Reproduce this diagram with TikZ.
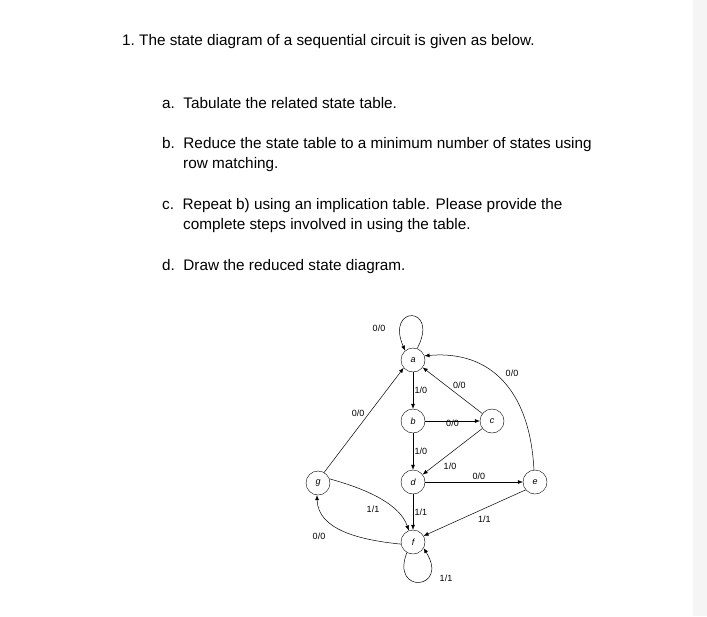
\documentclass[tikz,border=0pt]{standalone}
\usepackage{fontspec}
\setmainfont{Liberation Sans}
\usetikzlibrary{arrows.meta}
\begin{document}
\begin{tikzpicture}[x=1pt,y=-1pt,
  st/.style={circle,draw,minimum size=24pt,inner sep=0pt,font=\fontsize{9}{10}\selectfont\itshape},
  tr/.style={draw,-{Latex[length=5pt,width=4pt]},line width=0.5pt},
  lb/.style={font=\fontsize{9}{10}\selectfont},
  txt/.style={anchor=base west,inner sep=0pt,font=\fontsize{15.3}{18}\selectfont}]
\useasboundingbox (0,0) rectangle (707,616);
\fill[gray!8] (693,0) rectangle (707,616);
\node[txt] (t1) at (122,45) {1.\ The state diagram of a sequential circuit is given as below.};
\node[txt] (ta) at (162,108) {a.\ \ Tabulate the related state table.};
\node[txt] (tb) at (162,148) {b.\ \ Reduce the state table to a minimum number of states using};
\node[txt] (tb2) at (183,168) {row matching.};
\node[txt] (tc) at (162,209) {c.\ \ Repeat b) using an implication table. Please provide the};
\node[txt] (tc2) at (183,229) {complete steps involved in using the table.};
\node[txt] (td) at (162,270) {d.\ \ Draw the reduced state diagram.};

\node[st] (a) at (413,360) {a};
\node[st] (b) at (413,421) {b};
\node[st] (c) at (492,421) {c};
\node[st] (d) at (413,482) {d};
\node[st] (e) at (535,482) {e};
\node[st] (g) at (318,483) {g};
\node[st] (f) at (413,542) {f};

\draw[tr] (a.70) .. controls (440,305) and (385,305) .. (a.130);
\node[lb] (l1) at (379,328) {0/0};
\draw[tr] (a) -- (b) node[lb,midway,right,xshift=-2pt] {1/0};
\draw[tr] (c) -- (a) node[lb,pos=0.45,above,xshift=4pt,yshift=1pt] {0/0};
\draw[tr] (b) -- (c) node[lb,midway,yshift=-2pt] {0/0};
\draw[tr] (b) -- (d) node[lb,midway,right,xshift=-2pt] {1/0};
\draw[tr] (c) -- (d);
\node[lb] (l6) at (450,466) {1/0};
\draw[tr] (d) -- (e) node[lb,pos=0.55,above,yshift=-1pt] {0/0};
\draw[tr] (e.95) .. controls (530,390) and (490,350) .. (a.20);
\node[lb] (l2) at (512,373) {0/0};
\draw[tr] (g.60) -- (a.220) node[lb,midway,above left,xshift=4pt] {0/0};
\draw[tr] (g.20) .. controls (370,490) and (400,505) .. (f.110);
\node[lb] (l3) at (373,509) {1/1};
\draw[tr] (d) -- (f) node[lb,midway,right,xshift=-2pt] {1/1};
\draw[tr] (e.220) -- (f.30) node[lb,pos=0.5,below right,xshift=0pt] {1/1};
\draw[tr] (f.190) .. controls (360,540) and (318,530) .. (g.265);
\node[lb] (l4) at (319,536) {0/0};
\draw[tr] (f.240) .. controls (390,595) and (450,590) .. (f.-30);
\node[lb] (l5) at (446,578) {1/1};
\end{tikzpicture}
\end{document}
